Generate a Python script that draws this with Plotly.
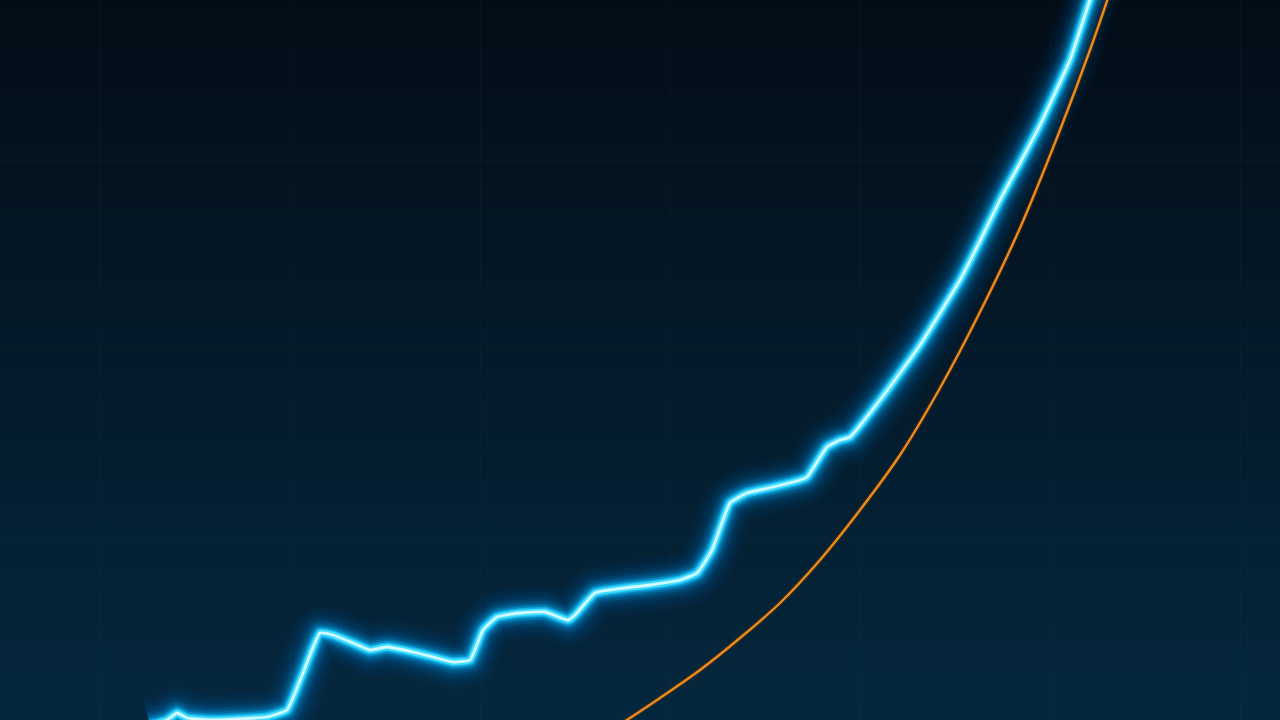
import plotly.graph_objects as go

# ---- data (x in time steps, y in value units) ----
actual_x = [7.5, 8.35, 8.85, 9.35, 10.5, 13.35, 14.35, 15.15, 16.0, 16.65, 17.65, 18.5, 19.35,
            20.65, 21.65, 22.65, 23.5, 24.15, 24.85, 26.0, 27.25, 28.4, 28.75, 29.75, 31.25,
            32.5, 34.0, 34.85, 35.6, 36.5, 37.35, 38.65, 40.0, 40.35, 41.35, 42.0, 42.5, 44.0,
            45.0, 46.0, 47.0, 48.0, 49.0, 50.0, 51.0, 52.0, 52.75, 53.5, 54.5, 55.0]
actual_y = [-0.25, 0.0, 0.35, 0.1, 0.0, 0.15, 0.5, 2.35, 4.35, 4.25, 3.85, 3.5, 3.65,
            3.4, 3.15, 2.9, 3.0, 4.5, 5.15, 5.35, 5.4, 5.0, 5.25, 6.35, 6.6,
            6.75, 7.0, 7.35, 8.5, 10.85, 11.35, 11.65, 12.0, 12.15, 13.65, 14.0, 14.15, 16.0,
            17.35, 18.75, 20.35, 22.0, 23.95, 26.0, 27.85, 29.75, 31.35, 33.0, 36.0, 37.25]

trend_x = [30.5, 31.5, 33.0, 35.0, 37.0, 39.0, 41.0, 43.0, 45.0, 47.0, 49.0, 51.0, 53.0,
           54.5, 55.5, 56.0]
trend_y = [-0.55, 0.1, 1.1, 2.5, 4.1, 5.85, 8.0, 10.5, 13.25, 16.6, 20.4, 24.6, 29.5,
           33.5, 36.4, 38.0]

X_RANGE = [0, 64]
Y_RANGE = [0, 36]

fig = go.Figure()

# glow layers for the actual series (soft bloom, outer to inner)
glow = [(56, "rgba(0,140,255,0.03)"), (48, "rgba(0,145,255,0.04)"),
        (40, "rgba(0,150,255,0.05)"), (33, "rgba(0,160,255,0.07)"),
        (27, "rgba(0,170,255,0.10)"), (22, "rgba(0,178,255,0.14)"),
        (17, "rgba(0,186,255,0.22)"), (13, "rgba(10,195,255,0.36)"),
        (9.5, "rgba(30,205,255,0.65)"), (6.5, "rgba(70,222,255,0.97)"),
        (2.8, "rgba(210,251,255,1)")]
for w, c in glow:
    fig.add_trace(go.Scatter(x=actual_x, y=actual_y, mode="lines",
                             line=dict(color=c, width=w, shape="spline", smoothing=0.4),
                             hoverinfo="skip", showlegend=False))

fig.add_trace(go.Scatter(x=trend_x, y=trend_y, mode="lines",
                         line=dict(color="rgba(110,55,0,0.35)", width=5, shape="spline", smoothing=0.8),
                         hoverinfo="skip", showlegend=False))
fig.add_trace(go.Scatter(x=trend_x, y=trend_y, mode="lines",
                         line=dict(color="#ec8a1c", width=2.4, shape="spline", smoothing=0.8),
                         showlegend=False))

# vertical background gradient (dark navy top -> deeper blue bottom)
top = (3, 13, 23)
bot = (5, 39, 61)
n = 90
shapes = []
for i in range(n):
    t = i / (n - 1)
    r = round(top[0] + (bot[0] - top[0]) * t)
    g = round(top[1] + (bot[1] - top[1]) * t)
    b = round(top[2] + (bot[2] - top[2]) * t)
    y1 = 1 - i / n
    y0 = 1 - (i + 1) / n
    shapes.append(dict(type="rect", xref="paper", yref="paper", x0=0, x1=1,
                       y0=y0 - 0.002, y1=y1 + 0.002, line=dict(width=0),
                       fillcolor=f"rgb({r},{g},{b})", layer="below"))

fig.update_layout(
    width=1280, height=720,
    margin=dict(l=0, r=0, t=0, b=0),
    paper_bgcolor="rgb(4,24,40)",
    plot_bgcolor="rgba(0,0,0,0)",
    shapes=shapes,
    showlegend=False,
    xaxis=dict(range=X_RANGE, showticklabels=False, zeroline=False, showline=False,
               showgrid=True, gridcolor="rgba(70,130,170,0.045)", gridwidth=1,
               tick0=5, dtick=9.5, fixedrange=True),
    yaxis=dict(range=Y_RANGE, showticklabels=False, zeroline=False, showline=False,
               showgrid=True, gridcolor="rgba(70,130,170,0.045)", gridwidth=1,
               tick0=9, dtick=9.5, fixedrange=True),
)

fig.write_html("out.html", config={"displayModeBar": False},
               post_script="document.body.style.margin='0';document.body.style.overflow='hidden';"
                           "document.documentElement.style.background='rgb(5,39,61)';")
